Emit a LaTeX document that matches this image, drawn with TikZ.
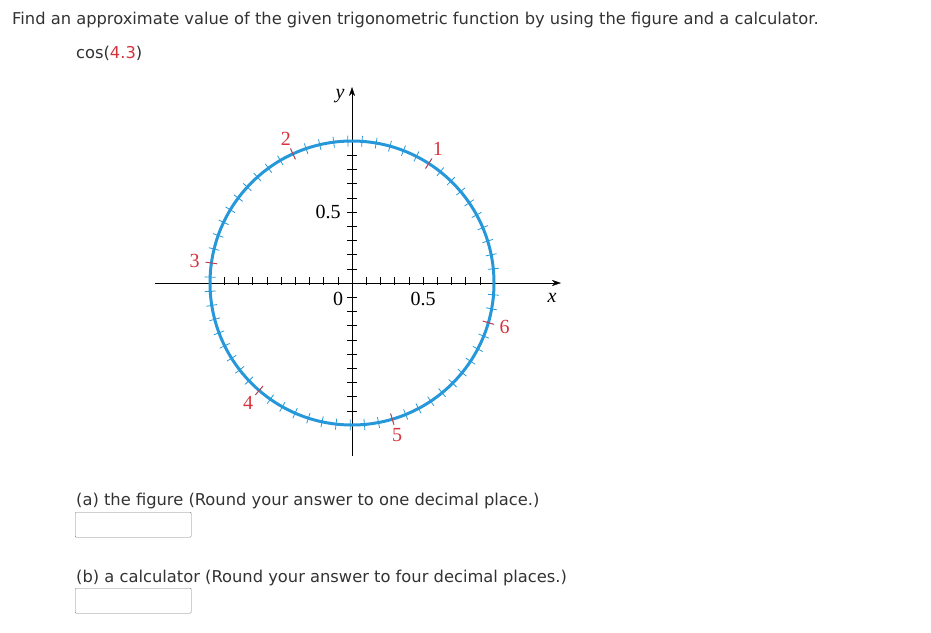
\documentclass[tikz,border=0pt]{standalone}
\usepackage{fontspec}
\setmainfont{DejaVu Sans}
\newfontfamily\figfont{Liberation Serif}
\usetikzlibrary{arrows.meta}
\definecolor{circblue}{RGB}{38,152,218}
\definecolor{tickred}{RGB}{214,52,60}
\definecolor{txtgray}{RGB}{50,50,50}
\definecolor{boxgray}{RGB}{125,125,125}
\begin{document}
\begin{tikzpicture}[x=1pt,y=1pt,
        txt/.style={anchor=base west,inner sep=0pt,text=txtgray,font=\fontsize{16.3}{19}\selectfont},
        ansbox/.style={draw=boxgray,rounded corners=1pt,minimum width=116pt,minimum height=25pt,anchor=north west,inner sep=0pt},
        num/.style={inner sep=0pt,font=\figfont\fontsize{20}{20}\selectfont},
        rednum/.style={num,text=tickred}]
    \useasboundingbox (0,0) rectangle (931,-632);
    \node[txt] (task) at (12,-24) {Find an approximate value of the given trigonometric function by using the figure and a calculator.};
    \node[txt] (func) at (76,-58) {cos(\textcolor{tickred}{4.3})};
    % axes
    \coordinate (O) at (352,-283);
    \coordinate (xl) at (155,-283);
    \coordinate (xr) at (561,-283);
    \coordinate (yb) at (352,-456);
    \coordinate (yt) at (352,-87);
    \draw[thin,-{Stealth[length=9pt,width=6pt]}] (xl) -- (xr);
    \draw[thin,-{Stealth[length=9pt,width=6pt]}] (yb) -- (yt);
    \foreach \k in {-9,...,-1,1,2,...,9} {
        \draw[thin] (O) ++(\k*14.2,-2) -- ++(0,8);
        \draw[thin] (O) ++(-5,\k*14.2) -- ++(10,0);
    }
    \node[num] (zero) at (338,-299) {0};
    \node[num] (xhalf) at (423,-299) {0.5};
    \node[num] (yhalf) at (328,-212) {0.5};
    \node[num] (xlab) at (552,-298) {\itshape x};
    \node[num] (ylab) at (340,-96) {\itshape y};
    % unit circle, one tick every 0.1
    \draw[circblue,line width=3pt] (O) circle (142);
    \foreach \i in {1,...,62} {
        \draw[circblue,line width=0.8pt] (O) ++({deg(\i/10)}:136.5) -- ++({deg(\i/10)}:11);
    }
    \foreach \n in {1,...,6} {
        \draw[tickred,line width=0.8pt] (O) ++({deg(\n)}:136) -- ++({deg(\n)}:12);
        \path (O) ++({deg(\n)}:159) node[rednum] (lab\n) {\n};
    }
    % answers
    \node[txt] (parta) at (76,-505) {(a) the figure (Round your answer to one decimal place.)};
    \node[ansbox] (boxa) at (75,-512) {};
    \node[txt] (partb) at (76,-582) {(b) a calculator (Round your answer to four decimal places.)};
    \node[ansbox] (boxb) at (75,-588) {};
\end{tikzpicture}
\end{document}
